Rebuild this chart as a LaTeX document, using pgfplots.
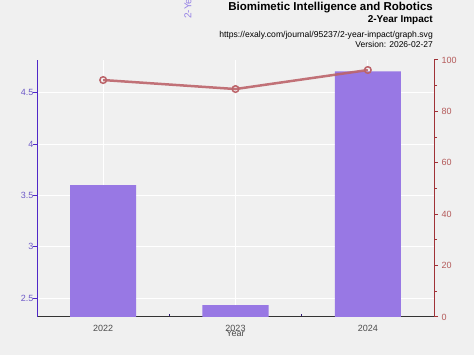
\documentclass[border=0pt]{standalone}
\usepackage{fontspec}
\setmainfont{Liberation Sans}
\usepackage{pgfplots}
\pgfplotsset{compat=1.18}
\definecolor{bg}{RGB}{240,240,240}
\definecolor{barc}{RGB}{152,120,228}
\definecolor{linec}{RGB}{188,100,106}
\definecolor{leftc}{RGB}{80,40,200}
\definecolor{lefttxt}{RGB}{110,90,200}
\definecolor{rightc}{RGB}{160,50,55}
\definecolor{righttxt}{RGB}{180,90,90}
\definecolor{labc}{RGB}{150,130,230}
\begin{document}
\begin{tikzpicture}[x=1pt,y=1pt]
\fill[bg] (0,0) rectangle (474,355);
\clip (0,0) rectangle (474,355);
\begin{axis}[at={(37pt,38pt)}, anchor=south west, scale only axis,
  width=397pt, height=257pt,
  xmin=-0.5, xmax=2.5, ymin=2.315, ymax=4.82,
  axis x line*=bottom, axis y line*=left,
  axis line style={line width=1pt},
  x axis line style={draw=black!80, -},
  y axis line style={draw=leftc, -},
  xtick={0,1,2}, xticklabels={2022,2023,2024},
  minor xtick={0.5,1.5},
  ytick={2.5,3,3.5,4,4.5},
  yticklabels={2.5,3,3.5,4,4.5},
  x tick label style={font=\fontsize{9}{10}\selectfont, text=black!70, yshift=-5pt},
  y tick label style={font=\fontsize{9}{10}\selectfont, text=lefttxt},
  xtick style={draw=leftc!60!black, line width=1pt},
  ytick style={draw=leftc, line width=1pt},
  x tick style={/pgfplots/tick align=inside},
  y tick style={/pgfplots/tick align=outside},
  major tick length=4pt, minor tick length=3pt,
  grid=major, major grid style={draw=white, line width=1pt},
  /pgf/number format/assume math mode=true,
  xlabel={Year}, xlabel style={font=\fontsize{9}{10}\selectfont, text=black!70, yshift=8pt},
]
\addplot[ybar, bar width=66pt, fill=barc, draw=none] coordinates {(0,3.6) (1,2.43) (2,4.71)};
\end{axis}
\begin{axis}[at={(37pt,38pt)}, anchor=south west, scale only axis,
  width=397pt, height=257pt,
  xmin=-0.5, xmax=2.5, ymin=0, ymax=100,
  axis y line*=right, axis x line=none,
  axis line style={line width=1pt, draw=rightc, -},
  ytick={0,20,40,60,80,100}, minor ytick={10,30,50,70,90},
  y tick label style={font=\fontsize{9}{10}\selectfont, text=righttxt},
  ytick style={draw=rightc, line width=1pt},
  tick align=outside, major tick length=4pt, minor tick length=3pt,
  /pgf/number format/assume math mode=true,
]
\addplot[color=linec, line width=2.5pt, opacity=0.9, mark=o, mark size=3.3pt,
  mark options={line width=1.5pt, fill=bg, opacity=1}] coordinates {(0,92.2) (1,88.7) (2,96.1)};
\end{axis}
\node[anchor=east, inner sep=0pt, font=\fontsize{11.5}{13}\selectfont\bfseries] at (433,347) {Biomimetic Intelligence and Robotics};
\node[anchor=east, inner sep=0pt, font=\fontsize{10}{12}\selectfont\bfseries] at (433,335) {2-Year Impact};
\node[anchor=east, inner sep=0pt, font=\fontsize{8.6}{10}\selectfont] at (433,320) {https://exaly.com/journal/95237/2-year-impact/graph.svg};
\node[anchor=east, inner sep=0pt, font=\fontsize{8.5}{10}\selectfont] at (433,311) {Version: 2026-02-27};
\node[anchor=west, rotate=90, font=\fontsize{10}{12}\selectfont, text=labc, inner sep=0pt] at (189,336) {2-Year Impact};
\end{tikzpicture}
\end{document}
